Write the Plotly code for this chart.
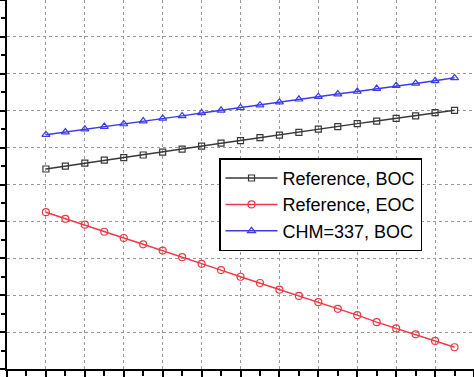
import plotly.graph_objects as go

# x positions (major grid units)
x_vals = [1.0, 1.5, 2.0, 2.5, 3.0, 3.5, 4.0, 4.5, 5.0, 5.5, 6.0,
          6.5, 7.0, 7.5, 8.0, 8.5, 9.0, 9.5, 10.0, 10.5, 11.0, 11.5]

ref_boc = [5.42, 5.50, 5.58, 5.66, 5.73, 5.80, 5.88, 5.96, 6.04, 6.12, 6.19,
           6.27, 6.34, 6.41, 6.50, 6.57, 6.65, 6.72, 6.79, 6.86, 6.95, 7.01]

ref_eoc = [4.25, 4.07, 3.91, 3.72, 3.55, 3.38, 3.21, 3.03, 2.85, 2.68, 2.50,
           2.33, 2.15, 1.98, 1.81, 1.63, 1.46, 1.27, 1.10, 0.94, 0.76, 0.59]

chm_boc = [6.35, 6.42, 6.50, 6.57, 6.64, 6.72, 6.79, 6.86, 6.94, 7.01, 7.08,
           7.15, 7.23, 7.31, 7.38, 7.45, 7.52, 7.60, 7.68, 7.74, 7.81, 7.89]

series_names = ["Reference, BOC", "Reference, EOC", "CHM=337, BOC"]

fig = go.Figure()
fig.add_trace(go.Scatter(
    x=x_vals, y=ref_boc, name=series_names[0], mode="lines+markers",
    line=dict(color="#383838", width=1.5),
    marker=dict(symbol="square-open", size=6, color="#383838", line=dict(width=1.2)),
))
fig.add_trace(go.Scatter(
    x=x_vals, y=ref_eoc, name=series_names[1], mode="lines+markers",
    line=dict(color="#ee3a46", width=1.5),
    marker=dict(symbol="circle-open", size=7, color="#ee3a46", line=dict(width=1.2)),
))
fig.add_trace(go.Scatter(
    x=x_vals, y=chm_boc, name=series_names[2], mode="lines+markers",
    line=dict(color="#3c3cee", width=1.5),
    marker=dict(symbol="triangle-up-open", size=7, color="#3c3cee", line=dict(width=1.2)),
))

axis_common = dict(
    showticklabels=False, automargin=False,
    showline=True, linecolor="black", linewidth=2,
    ticks="outside", tickcolor="black", tickwidth=2,
    showgrid=True, gridcolor="#999999", gridwidth=1, griddash="dot",
    zeroline=False, mirror=False,
)

fig.update_xaxes(range=[0, 12], dtick=1, tick0=0, ticklen=8,
                 minor=dict(dtick=0.5, ticks="outside", ticklen=5, tickwidth=2,
                            tickcolor="black", showgrid=False),
                 **axis_common)
fig.update_yaxes(range=[0, 10], dtick=1, tick0=0, ticklen=7,
                 minor=dict(dtick=0.5, ticks="outside", ticklen=4, tickwidth=2,
                            tickcolor="black", showgrid=False),
                 **axis_common)

fig.update_layout(
    width=474, height=377,
    margin=dict(l=7, r=0, t=0, b=8, autoexpand=False),
    plot_bgcolor="white", paper_bgcolor="white",
    showlegend=True,
    legend=dict(
        x=0.454, y=0.571, xanchor="left", yanchor="top",
        bgcolor="white", bordercolor="black", borderwidth=1.5,
        font=dict(family="Liberation Sans, Arial, sans-serif", size=18, color="black"),
        tracegroupgap=0, itemsizing="trace", itemwidth=52,
    ),
)

fig.write_html("out.html",
               config={"displayModeBar": False},
               post_script="document.body.style.margin='0px';document.body.style.overflow='hidden';")
